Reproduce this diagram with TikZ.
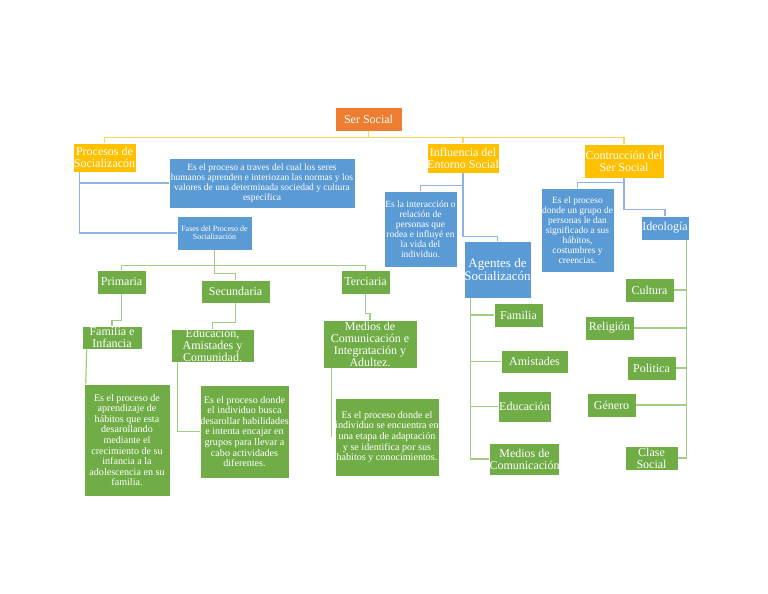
\documentclass[tikz,border=0pt]{standalone}
\usepackage{fontspec}
\setmainfont{Liberation Serif}
\usetikzlibrary{calc,positioning}
\definecolor{orng}{RGB}{237,125,49}
\definecolor{yell}{RGB}{255,192,0}
\definecolor{blu}{RGB}{91,155,213}
\definecolor{grn}{RGB}{112,173,71}
\definecolor{yline}{RGB}{255,214,90}
\definecolor{bline}{RGB}{141,180,226}
\definecolor{gline}{RGB}{160,205,130}

\begin{document}
\begin{tikzpicture}[x=1pt,y=-1pt,
    box/.style={text=white,inner sep=0pt,align=center,draw=white,line width=0.6pt},
    obox/.style={box,fill=orng},
    ybox/.style={box,fill=yell},
    bbox/.style={box,fill=blu},
    gbox/.style={box,fill=grn},
    sz/.style n args={2}{minimum width=#1,minimum height=#2},
    big/.style={font=\fontsize{12}{12}\selectfont},
    small/.style={font=\fontsize{9.5}{10}\selectfont},
    desc/.style={font=\fontsize{10.1}{10.6}\selectfont},
    yconn/.style={yline,line width=1.2pt},
    bconn/.style={bline,line width=1.2pt},
    gconn/.style={gline,line width=1.2pt}]
  \useasboundingbox (0,0) rectangle (768,594);
  % top level
  \node[obox,big,sz={67pt}{24pt}] (ser) at (368.5,119) {Ser Social};
  \node[ybox,big,sz={63pt}{29pt}] (proc) at (104.5,157.5) {Procesos de\\Socializacón};
  \node[ybox,big,sz={72pt}{30pt}] (infl) at (463,158) {Influencia del\\Entorno Social};
  \node[ybox,big,sz={80pt}{34pt}] (constr) at (624,161) {Contrucción del\\Ser Social};
  % procesos de socializacion
  \node[bbox,small,sz={186pt}{50pt}] (procdef) at (262,183)
    {Es el proceso a traves del cual los seres\\humanos aprenden e interiozan las normas y los\\valores de una determinada sociedad y cultura\\específica};
  \node[bbox,font=\fontsize{8}{8}\selectfont,sz={75pt}{34pt}] (fases) at (214.5,233)
    {Fases del Proceso de\\Socialización};
  \node[gbox,big,sz={49pt}{24pt}] (primaria) at (121.5,282) {Primaria};
  \node[gbox,big,sz={69pt}{23pt}] (secundaria) at (235.5,291.5) {Secundaria};
  \node[gbox,big,sz={49pt}{24pt}] (terciaria) at (365.5,282) {Terciaria};
  \node[gbox,big,sz={60pt}{23pt}] (faminf) at (112,337.5) {Familia e\\Infancia};
  \node[gbox,big,sz={83pt}{33pt}] (educom) at (212.5,345.5) {Educación,\\Amistades y\\Comunidad.};
  \node[gbox,big,sz={94pt}{48pt}] (medint) at (370,344) {Medios de\\Comunicación e\\Integratación y\\Adultez.};
  \node[gbox,desc,sz={86pt}{112pt}] (primdef) at (127,440)
    {Es el proceso de\\aprendizaje de\\hábitos que esta\\desarollando\\mediante el\\crecimiento de su\\infancia a la\\adolescencia en su\\familia.};
  \node[gbox,desc,sz={89pt}{93pt}] (secdef) at (244.5,431.5)
    {Es el proceso donde\\el individuo busca\\desarollar habilidades\\e intenta encajar en\\grupos para llevar a\\cabo actividades\\diferentes.};
  \node[gbox,desc,sz={104pt}{78pt}] (terdef) at (387,437)
    {Es el proceso donde el\\individuo se encuentra en\\una etapa de adaptación\\y se identifica por sus\\habitos y conocimientos.};
  % influencia del entorno
  \node[bbox,small,sz={73pt}{76pt}] (infldef) at (420.5,229)
    {Es la interacción o\\relación de\\personas que\\rodea e influyé en\\la vida del\\individuo.};
  \node[bbox,font=\fontsize{13}{13}\selectfont,sz={67pt}{57pt}] (agentes) at (497.5,269.5) {Agentes de\\Socializacón};
  \node[gbox,big,sz={49pt}{24pt}] (familia) at (518.5,315) {Familia};
  \node[gbox,big,sz={67pt}{23pt}] (amistades) at (534.5,361.5) {Amistades};
  \node[gbox,big,sz={53pt}{31pt}] (educacion) at (524.5,406.5) {Educación};
  \node[gbox,big,sz={69pt}{32pt}] (medios) at (524.5,459) {Medios de\\Comunicación};
  % construccion del ser social
  \node[bbox,small,sz={73pt}{84pt}] (constrdef) at (577.5,230)
    {Es el proceso\\donde un grupo de\\personas le dan\\significado a sus\\hábitos,\\costumbres y\\creencias.};
  \node[bbox,big,sz={48pt}{24pt}] (ideo) at (665,228) {Ideología};
  \node[gbox,big,sz={49pt}{24pt}] (cultura) at (649.5,290) {Cultura};
  \node[gbox,big,sz={49pt}{24pt}] (religion) at (609.5,328) {Religión};
  \node[gbox,big,sz={49pt}{24pt}] (politica) at (651.5,368) {Politica};
  \node[gbox,big,sz={49pt}{24pt}] (genero) at (611.5,405) {Género};
  \node[gbox,big,sz={53pt}{24pt}] (clase) at (651.5,458) {Clase\\Social};
  % connectors
  \coordinate (ybus) at ($(ser.south)+(0,6)$);
  \draw[yconn] (ser.south) -- (ybus);
  \draw[yconn] (proc.north) |- (ybus) -| (constr.north);
  \draw[yconn] (ybus -| infl.north) -- (infl.north);
  \coordinate (pl) at ($(proc.south west)+(7,0)$);
  \draw[bconn] (pl) |- (fases.west);
  \draw[bconn] (pl |- procdef.west) -- (procdef.west);
  \coordinate (fbus) at ($(fases.south)+(0,15)$);
  \draw[gconn] (fases.south) -- (fbus);
  \draw[gconn] (primaria.north) |- (fbus) -| (terciaria.north);
  \draw[gconn] (fbus) -- ++(0,8) -| (secundaria.north);
  \draw[gconn] (primaria.south) -- ++(0,26) -| (faminf.north);
  \draw[gconn] (secundaria.south) -- ++(0,19) -| (educom.north);
  \draw[gconn] (terciaria.south) -- ++(0,19) -| (medint.north);
  \draw[gconn] ($(faminf.south west)+(5,0)$) -- ($(primdef.north west)+(2,0)$);
  \draw[gconn] ($(educom.south west)+(7,0)$) |- (secdef.west);
  \draw[gconn] ($(medint.south west)+(9,0)$) |- ($(terdef.west)+(-3,0)$);
  \draw[bconn] (infl.south) -- ++(0,12) -| (infldef.north);
  \draw[bconn] (infl.south) |- ($(agentes.north)+(0,-4)$) -- (agentes.north);
  \coordinate (al) at ($(agentes.south west)+(7,0)$);
  \draw[gconn] (al) |- (medios.west);
  \foreach \n in {familia,amistades,educacion}
    \draw[gconn] (al |- \n.west) -- (\n.west);
  \draw[bconn] (constr.south) -- ++(0,4) -| (constrdef.north);
  \draw[bconn] (constr.south) |- ($(ideo.north)+(0,-6)$) -- (ideo.north);
  \coordinate (ir) at ($(ideo.south east)+(-3,0)$);
  \draw[gconn] (ir) |- (clase.east);
  \foreach \n in {cultura,religion,politica,genero}
    \draw[gconn] (ir |- \n.east) -- (\n.east);
\end{tikzpicture}
\end{document}
